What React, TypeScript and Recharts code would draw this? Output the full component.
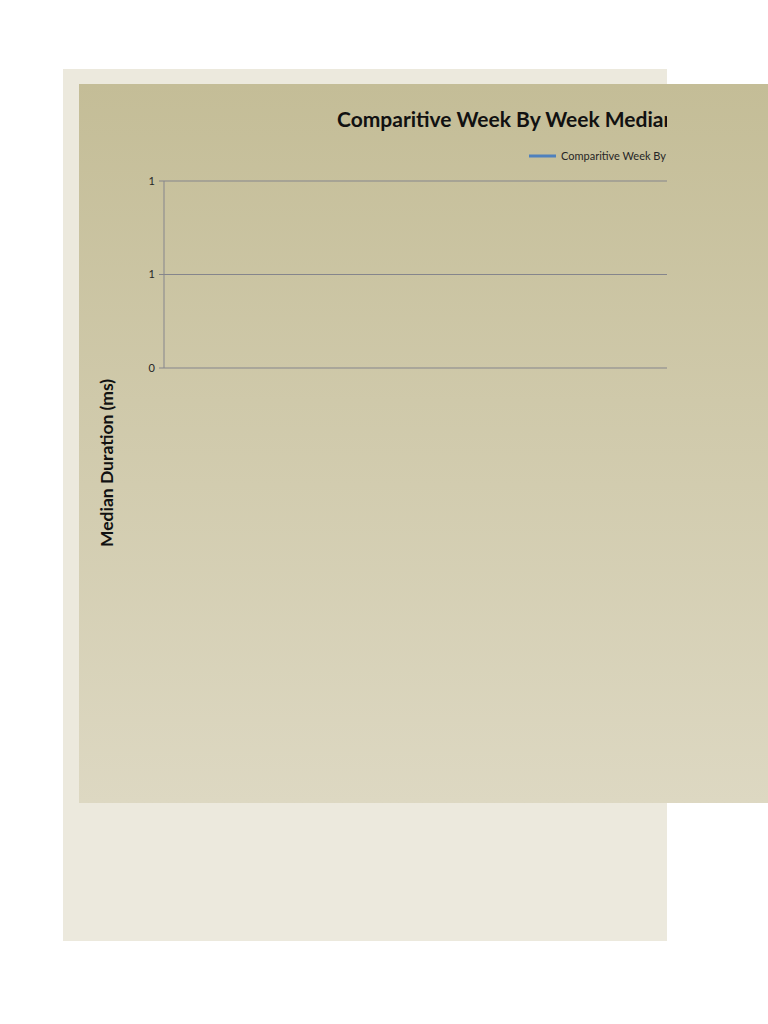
import React from 'react';
import { LineChart, Line, XAxis, YAxis, CartesianGrid, Label } from 'recharts';

const chartTitle = 'Comparitive Week By Week Median Duration';
const seriesName = 'Comparitive Week By Week Median Duration';
const yAxisTitle = 'Median Duration (ms)';
const weeks: string[] = ['Week 1', 'Week 2', 'Week 3', 'Week 4'];
const medianValues: (number | null)[] = [null, null, null, null];
const yTicks: number[] = [0, 0.5, 1];

const data = weeks.map((w, i) => ({ week: w, median: medianValues[i] }));

const FONT = 'Lato, "Open Sans", sans-serif';
const GRID = '#85858C';

export default function App() {
  return (
    <div style={{ position: 'absolute', left: 0, top: 0, width: 768, height: 1024, background: '#ffffff', overflow: 'hidden', fontFamily: FONT }}>
      <div style={{ position: 'absolute', left: 63, top: 69, width: 604, height: 872, background: '#ECE9DD' }} />
      <div style={{ position: 'absolute', left: 79, top: 84, width: 689, height: 719, background: 'linear-gradient(to bottom, #C4BD97, #DDD8C2)' }} />
      <div style={{ position: 'absolute', left: 79, top: 84, width: 588, height: 719, overflow: 'hidden' }}>
        <LineChart width={588} height={719} data={data} margin={{ top: 97, right: 0, bottom: 435, left: 0 }}>
          <CartesianGrid vertical={false} horizontalValues={yTicks} stroke={GRID} strokeWidth={1} />
          <XAxis dataKey="week" hide />
          <YAxis
            type="number"
            width={85}
            domain={[0, 1]}
            allowDataOverflow
            ticks={yTicks}
            interval={0}
            tickFormatter={(v: number) => String(Math.round(v))}
            axisLine={{ stroke: GRID }}
            tickLine={{ stroke: GRID }}
            tickSize={5}
            tickMargin={4}
            tick={{ fill: '#262626', fontSize: 11, fontFamily: FONT }}
          >
            <Label
              content={() => (
                <text
                  x={34}
                  y={379}
                  transform="rotate(-90 34 379)"
                  textAnchor="middle"
                  fontSize={17.5}
                  fontWeight="bold"
                  fill="#111"
                  fontFamily={FONT}
                >
                  {yAxisTitle}
                </text>
              )}
            />
          </YAxis>
          <Line type="linear" dataKey="median" name={seriesName} stroke="#4F81BD" strokeWidth={3} dot={false} isAnimationActive={false} />
          <text x={258} y={43} fontSize={21} fontWeight="bold" fill="#111" fontFamily={FONT}>{chartTitle}</text>
          <line x1={450} y1={72} x2={477} y2={72} stroke="#4F81BD" strokeWidth={3} />
          <text x={482} y={76} fontSize={11} fill="#262626" fontFamily={FONT}>{seriesName}</text>
        </LineChart>
      </div>
    </div>
  );
}
